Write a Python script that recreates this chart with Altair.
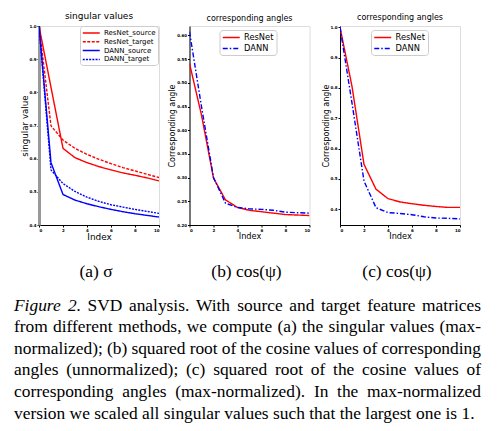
import altair as alt
import pandas as pd

# ---------------- data ----------------
index = list(range(11))

series_a = ["ResNet_source", "ResNet_target", "DANN_source", "DANN_target"]
resnet_source = [1.0, 0.815, 0.631, 0.603, 0.588, 0.576, 0.566, 0.557, 0.550, 0.542, 0.533]
resnet_target = [1.0, 0.699, 0.656, 0.631, 0.613, 0.598, 0.585, 0.573, 0.563, 0.553, 0.543]
dann_source = [1.0, 0.588, 0.492, 0.475, 0.464, 0.455, 0.447, 0.440, 0.434, 0.429, 0.424]
dann_target = [1.0, 0.566, 0.525, 0.501, 0.484, 0.471, 0.461, 0.454, 0.447, 0.441, 0.435]

series_bc = ["ResNet", "DANN"]
resnet_b = [0.541, 0.432, 0.299, 0.253, 0.237, 0.231, 0.228, 0.225, 0.222, 0.221, 0.220]
dann_b = [0.608, 0.450, 0.300, 0.246, 0.237, 0.234, 0.233, 0.231, 0.227, 0.226, 0.225]
resnet_c = [1.0, 0.805, 0.548, 0.466, 0.435, 0.424, 0.418, 0.413, 0.409, 0.406, 0.406]
dann_c = [1.0, 0.750, 0.493, 0.405, 0.389, 0.386, 0.382, 0.375, 0.371, 0.370, 0.368]

panel_titles = ["singular values", "corresponding angles", "corresponding angles"]
y_titles = ["singular value", "Corresponding angle", "Corresponding angle"]
x_title = "Index"
x_ticks = [0, 2, 4, 6, 8, 10]
y_ticks_a = [0.4, 0.5, 0.6, 0.7, 0.8, 0.9, 1.0]
y_ticks_b = [0.20, 0.25, 0.30, 0.35, 0.40, 0.45, 0.50, 0.55, 0.60]
y_ticks_c = [0.4, 0.5, 0.6, 0.7, 0.8, 0.9, 1.0]
subcaptions = ["(a) σ", "(b) cos(ψ)", "(c) cos(ψ)"]
caption_lines = [
    "Figure 2. SVD analysis. With source and target feature matrices",
    "from different methods, we compute (a) the singular values (max-",
    "normalized); (b) squared root of the cosine values of corresponding",
    "angles (unnormalized); (c) squared root of the cosine values of",
    "corresponding angles (max-normalized). In the max-normalized",
    "version we scaled all singular values such that the largest one is 1.",
]
caption_italic_words = 2  # "Figure 2."

# ---------------- styling ----------------
W, H = 120, 199
RED, BLUE = "#ff0000", "#0000ff"
SANS = "DejaVu Sans"
SERIF = "Liberation Serif"
CAP_SIZE = 17.4
CAP_WIDTH = 467
LINE_GAP = 21.6
LEGEND_LINE = "M-1,0H3"  # wide, flat legend handle like matplotlib

# Times metrics (per 1000 em) for justified caption layout
ROMAN = dict(zip("abcdefghijklmnopqrstuvwxyz",
                 [444, 500, 444, 500, 444, 333, 500, 500, 278, 278, 500, 278, 778,
                  500, 500, 500, 500, 333, 389, 278, 500, 500, 722, 500, 500, 444]))
ROMAN.update({"S": 556, "V": 722, "D": 722, "W": 944, "I": 333, "F": 556,
              "(": 333, ")": 333, ".": 250, ",": 250, ";": 278, "-": 333,
              "1": 500, "2": 500, " ": 250})
ITALIC = dict(ROMAN)
ITALIC.update({"F": 611, "r": 389})


def tw(s, italic):
    t = ITALIC if italic else ROMAN
    return sum(t.get(c, 500) for c in s) * CAP_SIZE / 1000.0


rows = []
for r, line in enumerate(caption_lines):
    words = line.split(" ")
    it = [(r == 0 and i < caption_italic_words) for i in range(len(words))]
    widths = [tw(w, f) for w, f in zip(words, it)]
    space = tw(" ", False)
    natural = sum(widths) + space * (len(words) - 1)
    if r < len(caption_lines) - 1:
        gap = space + (CAP_WIDTH - natural) / (len(words) - 1)
    else:
        gap = space
    x = 0.0
    for w, f, wd in zip(words, it, widths):
        rows.append({"row": r, "x": x, "word": w, "italic": f})
        x += wd + gap
caption_df = pd.DataFrame(rows)


def long_df(series, values):
    recs = []
    for s, vals in zip(series, values):
        for i, v in zip(index, vals):
            recs.append({"Index": i, "value": v, "series": s})
    return pd.DataFrame(recs)


def make_panel(df, series, colors, dashes, ytitle, ydomain, yticks, yfmt,
               fs, leg_x, leg_y, leg_fs, leg_row, leg_pad, sub, ytitle_x,
               domain_color="black", domain_width=1):
    leg = alt.Legend(title=None, orient="none", legendX=leg_x, legendY=leg_y,
                     direction="vertical", fillColor="white", strokeColor="#cccccc",
                     cornerRadius=3, padding=leg_pad, labelFont=SANS, labelFontSize=leg_fs,
                     labelColor="black", symbolType=LEGEND_LINE, symbolSize=72,
                     symbolStrokeWidth=1.5, rowPadding=leg_row, labelOffset=12)
    lines = alt.Chart(df).mark_line(strokeWidth=1.4, clip=True).encode(
        x=alt.X("Index:Q",
                scale=alt.Scale(domain=[0, 10], nice=False, zero=False),
                axis=alt.Axis(values=x_ticks, format="d", grid=False, title=x_title,
                              labelFont=SANS, labelFontSize=4, labelFontWeight="bold",
                              labelColor="black", labelPadding=1, tickSize=2,
                              tickColor="black", domainColor="black",
                              titleFont=SANS, titleFontSize=fs + 0.2,
                              titleFontWeight="normal", titleColor="black",
                              titleX=W / 2, titleY=11, titleAlign="center",
                              titleBaseline="middle")),
        y=alt.Y("value:Q",
                scale=alt.Scale(domain=ydomain, nice=False, zero=False),
                axis=alt.Axis(values=yticks, format=yfmt, grid=False, title=ytitle,
                              labelFont=SANS, labelFontSize=4, labelFontWeight="bold",
                              labelColor="black", labelPadding=1, tickSize=2,
                              tickColor="black", domainColor=domain_color,
                              domainWidth=domain_width,
                              titleFont=SANS, titleFontSize=fs,
                              titleFontWeight="normal", titleColor="black",
                              titleX=ytitle_x, titleY=H / 2, titleAngle=270,
                              titleAlign="center", titleBaseline="middle")),
        color=alt.Color("series:N", scale=alt.Scale(domain=series, range=colors), legend=leg),
        strokeDash=alt.StrokeDash("series:N", scale=alt.Scale(domain=series, range=dashes),
                                  legend=leg),
    )
    subc = alt.Chart(pd.DataFrame({"t": [sub]})).mark_text(
        font=SERIF, fontSize=CAP_SIZE, align="center", baseline="alphabetic",
        color="black").encode(text="t:N", x=alt.value(57), y=alt.value(250.5))
    return lines, subc


def ptitle(text, size):
    return alt.TitleParams(text, font=SANS, fontSize=size, fontWeight="normal",
                           color="black", offset=3)


df_a = long_df(series_a, [resnet_source, resnet_target, dann_source, dann_target])
df_b = long_df(series_bc, [resnet_b, dann_b])
df_c = long_df(series_bc, [resnet_c, dann_c])

la, sa = make_panel(df_a, series_a, [RED, RED, BLUE, BLUE], [[1, 0], [3, 1.5], [1, 0], [2, 1.2]],
                    y_titles[0], [0.4, 1.0], y_ticks_a, ".1f",
                    8.7, 41, 0, 7, 0.8, 2, subcaptions[0], -15, "#999999", 3)
lb, sb = make_panel(df_b, series_bc, [RED, BLUE], [[1, 0], [5, 2, 1.5, 2]],
                    y_titles[1], [0.20, 0.62], y_ticks_b, ".2f",
                    8, 30, 4, 8.3, 2, 2.5, subcaptions[1], -17)
lc, sc = make_panel(df_c, series_bc, [RED, BLUE], [[1, 0], [5, 2, 1.5, 2]],
                    y_titles[2], [0.348, 1.004], y_ticks_c, ".1f",
                    8, 31, 4, 8.3, 2, 2.5, subcaptions[2], -14)

cap_base = alt.Chart(caption_df).encode(
    x=alt.X("x:Q", scale=alt.Scale(domain=[0, CAP_WIDTH], range=[-25, CAP_WIDTH - 25],
                                   nice=False, zero=False), axis=None),
    y=alt.Y("row:Q", scale=alt.Scale(domain=[0, 5], range=[284.5, 284.5 + 5 * LINE_GAP],
                                     nice=False, zero=False), axis=None),
    text="word:N",
)
cap_roman = cap_base.transform_filter("!datum.italic").mark_text(
    font=SERIF, fontSize=CAP_SIZE, align="left", baseline="alphabetic", color="black")
cap_italic = cap_base.transform_filter("datum.italic").mark_text(
    font=SERIF, fontSize=CAP_SIZE, align="left", baseline="alphabetic", color="black",
    fontStyle="italic")

panel_a = alt.layer(la, sa, cap_roman, cap_italic).resolve_scale(
    x="independent", y="independent").properties(width=W, height=H,
                                                  title=ptitle(panel_titles[0], 9))
panel_b = alt.layer(lb, sb).properties(width=W, height=H, title=ptitle(panel_titles[1], 8))
panel_c = alt.layer(lc, sc).properties(width=W, height=H, title=ptitle(panel_titles[2], 8))

chart = alt.hconcat(panel_a, panel_b, panel_c, spacing=30.5, bounds="flush").resolve_scale(
    color="independent", strokeDash="independent"
).properties(
    padding={"left": 5, "top": 3, "right": 2, "bottom": 2}
).configure_view(stroke="black", strokeWidth=1).configure(background="white")

chart.save("out.html", embed_options={"renderer": "svg", "actions": False})
